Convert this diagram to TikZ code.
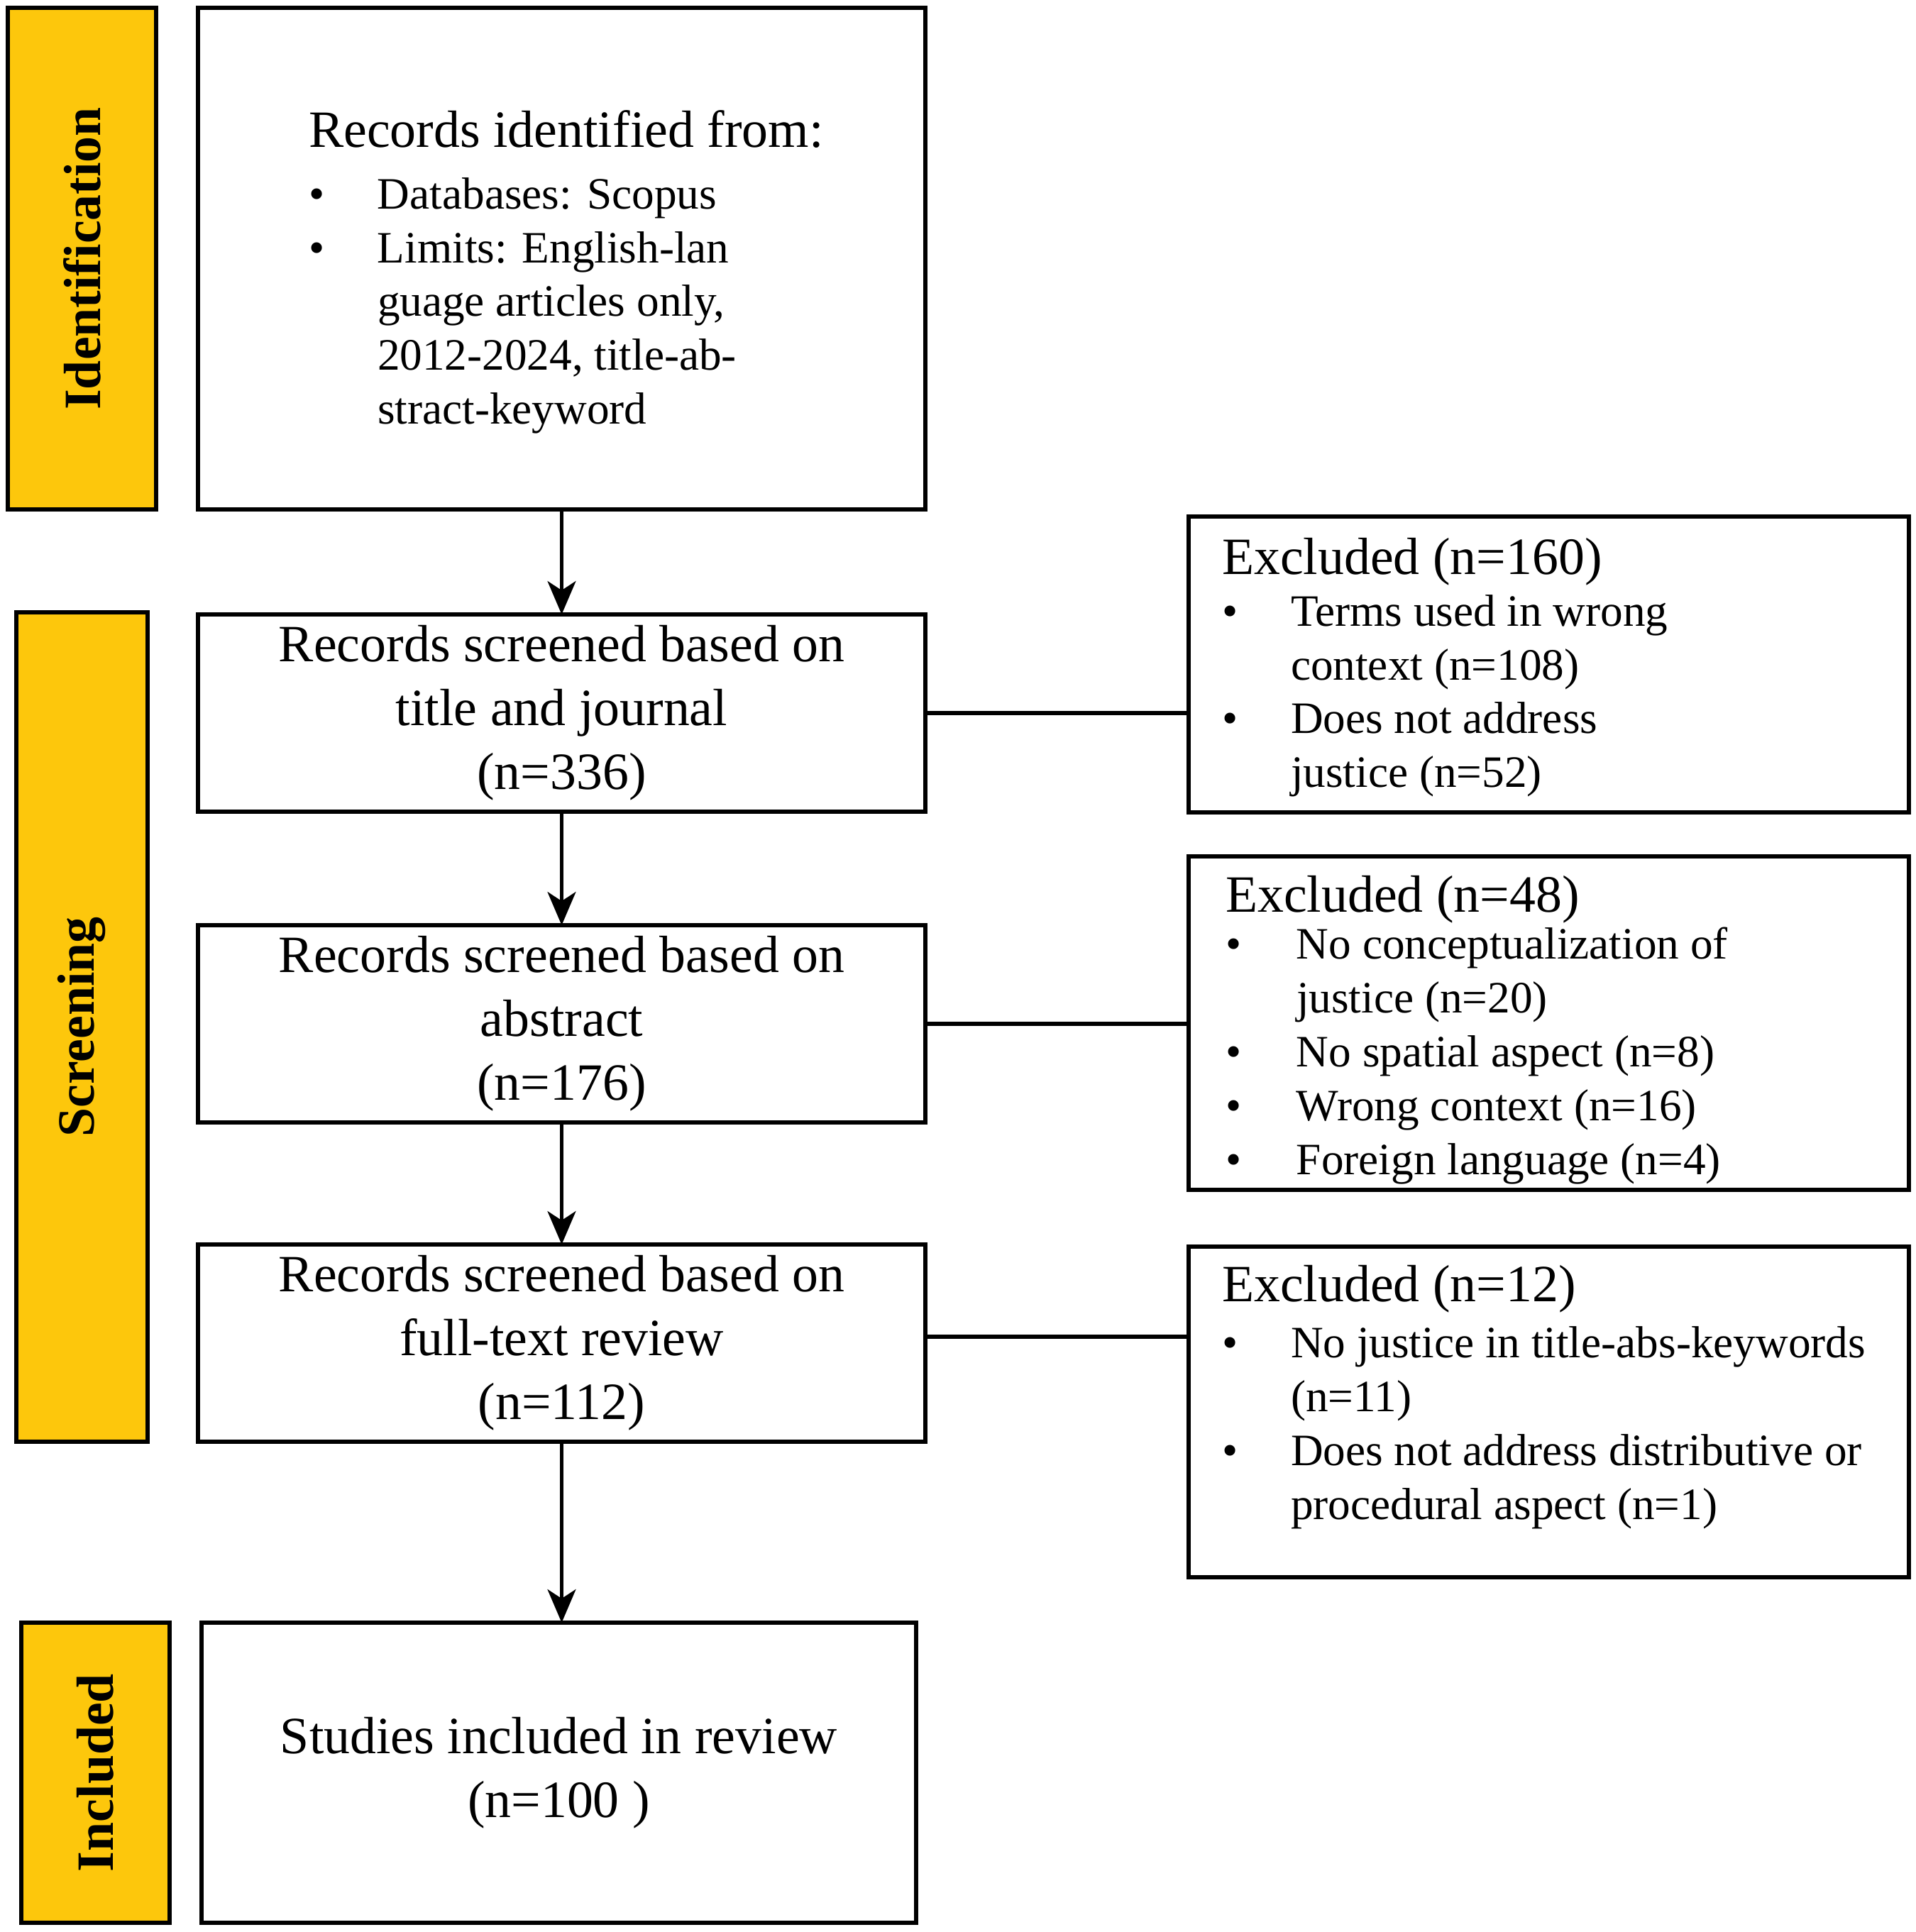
\documentclass[tikz,border=0pt]{standalone}
\usepackage{fontspec}
\setmainfont{Liberation Serif}
\usetikzlibrary{arrows.meta}
\definecolor{phase}{RGB}{253,199,12}
\newcommand\bl[1][0.97cm]{\makebox[#1][l]{\textbullet}}
\newcommand\ind[1][0.97cm]{\hspace*{#1}}
\newcommand\hdfont{\fontsize{21}{25}\selectfont}
\newcommand\itfont{\fontsize{18}{21.6}\selectfont}
\begin{document}
\begin{tikzpicture}[
  box/.style={draw=black, line width=1.6pt, inner sep=0pt, outer sep=0pt},
  phasebox/.style={box, fill=phase, font=\fontsize{21}{25}\selectfont\bfseries},
  main/.style={box, align=center, font=\fontsize{21}{25.6}\selectfont},
  arr/.style={-{Stealth[length=0.47cm, width=0.40cm, inset=0.13cm]}, line width=1.2pt},
  conn/.style={line width=1.5pt},
  txt/.style={inner sep=0pt, outer sep=0pt, anchor=base west}
]
\useasboundingbox (0,0) rectangle (27,-27.23);
\fill[white] (0,0) rectangle (27,-27.23);

% phase labels
\node[phasebox, minimum width=2.09cm, minimum height=7.07cm] (pid) at (1.155,-3.645) {\rotatebox{90}{Identification}};
\node[phasebox, minimum width=1.85cm, minimum height=11.69cm] (psc) at (1.155,-14.475) {\rotatebox{90}{Screening}};
\node[phasebox, minimum width=2.09cm, minimum height=4.23cm] (pin) at (1.345,-24.985) {\rotatebox{90}{Included}};

% main column
\node[box, minimum width=10.25cm, minimum height=7.07cm] (b1) at (7.915,-3.645) {};
\node[txt] (b1t) at (4.35,-2.08) {\parbox[t]{8.6cm}{\hdfont Records identified from:\par
  \itfont\vspace{2.9pt}
  \bl Databases: Scopus\par
  \bl Limits: English-lan\par
  \ind guage articles only,\par
  \ind 2012-2024, title-ab-\par
  \ind stract-keyword}};

\node[main, minimum width=10.25cm, minimum height=2.78cm] (b2) at (7.915,-10.05) {Records screened based on\\title and journal\\(n=336)};
\node[main, minimum width=10.25cm, minimum height=2.78cm] (b3) at (7.915,-14.43) {Records screened based on\\abstract\\(n=176)};
\node[main, minimum width=10.25cm, minimum height=2.78cm] (b4) at (7.915,-18.93) {Records screened based on\\full-text review\\(n=112)};
\node[main, minimum width=10.07cm, minimum height=4.23cm] (b5) at (7.875,-24.985) {Studies included in review\\(n=100 )};

% exclusion boxes
\node[box, minimum width=10.15cm, minimum height=4.17cm] (e1) at (21.825,-9.365) {};
\node[txt] (e1t) at (17.22,-8.09) {\parbox[t]{9.4cm}{\hdfont Excluded (n=160)\par
  \itfont\vspace{-0.8pt}
  \bl Terms used in wrong\par
  \ind context (n=108)\par
  \bl Does not address\par
  \ind justice (n=52)}};

\node[box, minimum width=10.15cm, minimum height=4.70cm] (e2) at (21.825,-14.42) {};
\node[txt] (e2t) at (17.27,-12.85) {\parbox[t]{9.4cm}{\hdfont Excluded (n=48)\par
  \itfont\vspace{-2.6pt}
  \bl[1.0cm]No conceptualization of\par
  \ind[1.0cm]justice (n=20)\par
  \bl[1.0cm]No spatial aspect (n=8)\par
  \bl[1.0cm]Wrong context (n=16)\par
  \bl[1.0cm]Foreign language (n=4)}};

\node[box, minimum width=10.15cm, minimum height=4.66cm] (e3) at (21.825,-19.90) {};
\node[txt] (e3t) at (17.22,-18.34) {\parbox[t]{9.4cm}{\hdfont Excluded (n=12)\par
  \itfont\vspace{1.1pt}
  \bl No justice in title-abs-keywords\par
  \ind (n=11)\par
  \bl Does not address distributive or\par
  \ind procedural aspect (n=1)}};

% connectors
\draw[arr] (b1.south) -- (b2.north);
\draw[arr] (b2.south) -- (b3.north);
\draw[arr] (b3.south) -- (b4.north);
\draw[arr] (b4.south) -- (b4.south |- b5.north);

\draw[conn] (b2.east) -- (b2.east -| e1.west);
\draw[conn] (b3.east) -- (b3.east -| e2.west);
\draw[conn] ([yshift=0.09cm]b4.east) -- ([yshift=0.09cm]b4.east -| e3.west);
\end{tikzpicture}
\end{document}
